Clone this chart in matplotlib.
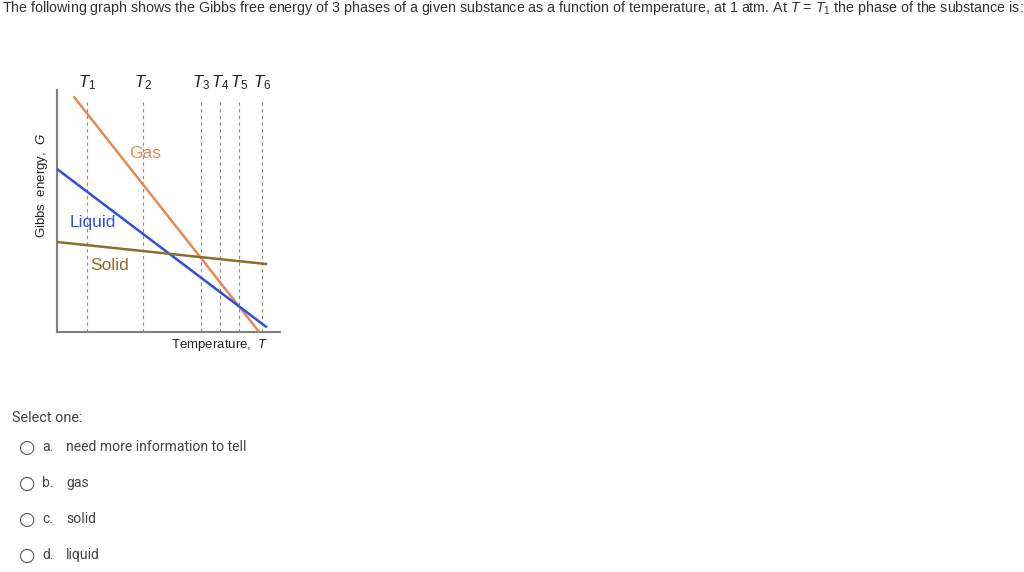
import matplotlib
matplotlib.use("Agg")
import matplotlib.pyplot as plt
import numpy as np

# ---- data (arbitrary units: temperature, Gibbs energy) ----
t_labels = ["$T_1$", "$T_2$", "$T_3$", "$T_4$", "$T_5$", "$T_6$"]
t_positions = [29.7, 85.7, 143.7, 163.0, 182.0, 204.7]
gas_T = [17.3, 202.0]
gas_G = [234.7, 0.3]
liquid_T = [0.0, 209.0]
liquid_G = [163.0, 5.3]
solid_T = [0.0, 209.0]
solid_G = [90.0, 68.0]
phase_names = ["Gas", "Liquid", "Solid"]
phase_label_T = [88.0, 36.0, 53.0]
phase_label_G = [178.0, 109.0, 66.0]
question = ("The following graph shows the Gibbs free energy of 3 phases of a given substance "
            "as a function of temperature, at 1 atm. At $T$ = $T_1$ the phase of the substance is:")
options = ["a.", "b.", "c.", "d."]
option_texts = ["need more information to tell", "gas", "solid", "liquid"]

W, H = 1024, 572
fig = plt.figure(figsize=(W / 100, H / 100), dpi=100)
fig.patch.set_facecolor("white")

def fx(px):
    return px / W

def fy(py):
    return 1 - py / H

ax = fig.add_axes([fx(57), fy(332), 223 / W, 242 / H])
ax.set_xlim(0, 223)
ax.set_ylim(0, 242)

c_gas = "#E58A55"
c_liq = "#2F4FDF"
c_sol = "#86702E"

for tp in t_positions:
    ax.plot([tp, tp], [0, 230], color="#8a8a8a", lw=0.8, ls=(0, (3, 3)), zorder=1)

ax.plot(gas_T, gas_G, color=c_gas, lw=1.8, zorder=3)
ax.plot(liquid_T, liquid_G, color=c_liq, lw=1.8, zorder=3)
ax.plot(solid_T, solid_G, color=c_sol, lw=1.8, zorder=3)

for name, lt, lg, c in zip(phase_names, phase_label_T, phase_label_G,
                           [c_gas, c_liq, c_sol]):
    ax.text(lt, lg, name, color=c, fontsize=12.5, ha="center", va="center",
            family="Liberation Sans", zorder=4)

plt.rcParams["mathtext.fontset"] = "custom"
plt.rcParams["mathtext.it"] = "Liberation Sans:italic"
plt.rcParams["mathtext.rm"] = "Liberation Sans"

for lab, tp in zip(t_labels, t_positions):
    ax.text(tp, 249, lab, fontsize=12, ha="center", va="center", color="#222222")

for s in ["top", "right"]:
    ax.spines[s].set_visible(False)
for s in ["left", "bottom"]:
    ax.spines[s].set_color("#808080")
    ax.spines[s].set_linewidth(1.5)
ax.set_xticks([])
ax.set_yticks([])

fig.text(fx(220), fy(345), "Temperature,  $T$", fontsize=9.5, ha="center", va="center",
         color="#222222", family="Liberation Sans")
fig.text(fx(42), fy(185), "Gibbs  energy,  $G$", fontsize=9.5, ha="center", va="center",
         rotation=90, color="#222222", family="Liberation Sans")

title = fig.text(fx(2), fy(8), question, fontsize=10.0, ha="left", va="center",
                 color="#333333", family="Liberation Sans")
renderer = fig.canvas.get_renderer()
target_w = 1016
for _ in range(4):
    w = title.get_window_extent(renderer).width
    title.set_fontsize(title.get_fontsize() * target_w / w)

fig.text(fx(12), fy(418), "Select one:", fontsize=10.4, ha="left", va="center",
         color="#444444", family="Roboto")
for i, (o, t) in enumerate(zip(options, option_texts)):
    y = 447 + 36 * i
    fig.text(fx(27), fy(y), "\u25cb", fontsize=13.5, ha="center", va="center",
             color="#555555", family="DejaVu Sans")
    fig.text(fx(42), fy(y), o, fontsize=10.1, ha="left", va="center",
             color="#444444", family="Roboto")
    fig.text(fx(66), fy(y), t, fontsize=10.1, ha="left", va="center",
             color="#444444", family="Roboto")

fig.savefig("out.png", dpi=100)
